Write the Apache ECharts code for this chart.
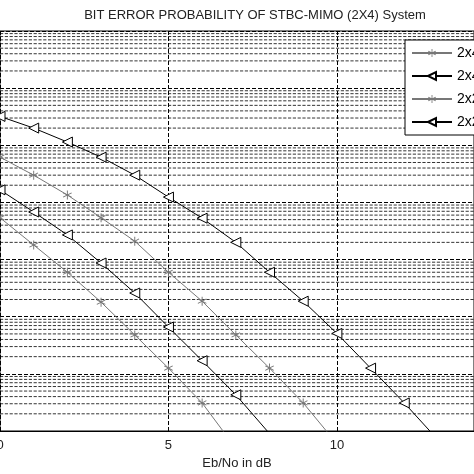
<!DOCTYPE html>
<html><head><meta charset="utf-8">
<script src="https://cdn.jsdelivr.net/npm/echarts@6/dist/echarts.min.js"></script>
<style>html,body{margin:0;padding:0;background:#fff}#c{width:474px;height:474px}</style>
</head><body><div id="c"></div>
<script>
// Eb/No in dB
const snr = [0, 1, 2, 3, 4, 5, 6, 7, 8, 9, 10, 11, 12, 13];
// BER values (last value falls below the axis floor)
const ber1 = [5.4e-4, 1.8e-4, 6.0e-5, 1.8e-5, 4.8e-6, 1.26e-6, 3.1e-7, 5e-8];
const ber2 = [1.66e-3, 6.8e-4, 2.7e-4, 8.7e-5, 2.6e-5, 6.6e-6, 1.7e-6, 4.3e-7, 9e-8];
const ber3 = [6.2e-3, 3.0e-3, 1.35e-3, 5.4e-4, 2.1e-4, 6.0e-5, 1.87e-5, 4.8e-6, 1.26e-6, 3.1e-7, 6e-8];
const ber4 = [3.2e-2, 2.0e-2, 1.14e-2, 6.2e-3, 3.0e-3, 1.24e-3, 5.3e-4, 2.0e-4, 6.0e-5, 1.87e-5, 5.1e-6, 1.26e-6, 3.1e-7, 7e-8];
const names = ['2x4 STBC theory', '2x4 STBC simulation', '2x2 STBC theory', '2x2 STBC simulation'];

const star = 'path://M4.5,0h1v4.3l3.7-2.1l0.5,0.9l-3.7,2.1l3.7,2.1l-0.5,0.9l-3.7,-2.1v4.3h-1v-4.3l-3.7,2.1l-0.5,-0.9l3.7,-2.1l-3.7,-2.1l0.5,-0.9l3.7,2.1z';

// minor log grid lines 2..9 x 10^k, drawn as broken line segments
const minor = [];
for (let k = -7; k < 0; k++) for (let m = 2; m <= 9; m++) {
  const v = m * Math.pow(10, k);
  minor.push([0, v], [14.07, v], '-');
}

function mk(name, data, gray) {
  return {
    name, type: 'line', data: data.map((v, i) => [snr[i], v]),
    symbol: gray ? star : 'triangle', symbolSize: gray ? 9 : 10, symbolRotate: gray ? 0 : 90,
    showAllSymbol: true,
    lineStyle: { color: gray ? '#777' : '#000', width: 1 },
    itemStyle: gray ? { color: '#777' } : { color: '#fff', borderColor: '#000', borderWidth: 1 },
    z: 5
  };
}

const chart = echarts.init(document.getElementById('c'));
chart.setOption({
  animation: false,
  title: { text: 'BIT ERROR PROBABILITY OF STBC-MIMO (2X4) System', left: 250, top: 4, textAlign: 'center',
    textStyle: { fontFamily: 'Liberation Sans', fontWeight: 'normal', fontSize: 13, color: '#222' } },
  grid: { left: 0, right: 0, top: 31, bottom: 43, show: true, borderColor: '#000', borderWidth: 1,
    outerBoundsMode: 'none', containLabel: false },
  legend: {
    left: 405, top: 40, orient: 'vertical', itemGap: 9, itemWidth: 40, itemHeight: 10, z: 20,
    backgroundColor: '#fff', borderColor: '#000', borderWidth: 1, padding: [6, 6],
    textStyle: { fontFamily: 'Liberation Sans', fontSize: 14, color: '#000' },
    data: names
  },
  xAxis: {
    type: 'value', min: 0, max: 14.07, interval: 5,
    name: 'Eb/No in dB', nameLocation: 'middle', nameGap: 26,
    nameTextStyle: { fontFamily: 'Liberation Sans', fontSize: 13, color: '#222' },
    axisLine: { lineStyle: { color: '#000' } }, axisTick: { show: false },
    axisLabel: { showMaxLabel: false, fontFamily: 'Liberation Sans', fontSize: 13, color: '#222' },
    splitLine: { lineStyle: { type: 'dashed', color: '#000', width: 1 } }
  },
  yAxis: {
    type: 'log', min: 1e-7, max: 1, logBase: 10,
    axisLabel: { show: false }, axisTick: { show: false }, axisLine: { show: false },
    splitLine: { lineStyle: { type: 'dashed', color: '#000', width: 1 } }
  },
  series: [
    mk(names[0], ber1, true),
    mk(names[1], ber2, false),
    mk(names[2], ber3, true),
    mk(names[3], ber4, false),
    { type: 'line', data: minor, silent: true, z: 1, symbol: 'none', connectNulls: false,
      lineStyle: { type: 'dashed', color: '#000', width: 0.8 } }
  ]
});
</script></body></html>
